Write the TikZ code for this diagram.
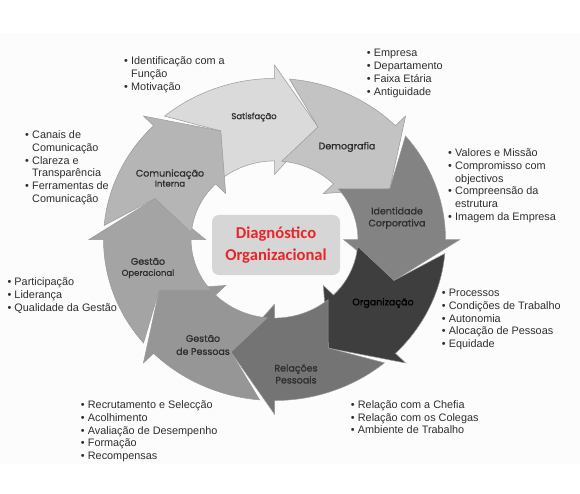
\documentclass[tikz,border=0pt]{standalone}
\usepackage{fontspec}
\setmainfont{Liberation Sans}
\newfontfamily\lblfont[FakeBold=1.2]{Poppins}
\newfontfamily\titlefont{Carlito}
\usetikzlibrary{calc}
\definecolor{cSat}{HTML}{DADADA}
\definecolor{cDem}{HTML}{C3C3C3}
\definecolor{cIde}{HTML}{838383}
\definecolor{cOrg}{HTML}{3E3E3E}
\definecolor{cRel}{HTML}{747474}
\definecolor{cGPe}{HTML}{969696}
\definecolor{cGOp}{HTML}{A4A4A4}
\definecolor{cCom}{HTML}{B5B5B5}
\definecolor{cTitle}{HTML}{E8262A}
\definecolor{cBox}{HTML}{D6D6D6}
\definecolor{cTxt}{HTML}{2E2E2E}
\def\rI{81}
\def\rII{67}
\def\rO{166}
\def\rOO{180}
\def\rM{123.5}
\newcommand\seg[2]{%
  \filldraw[segline, fill=#2]
    (#1+60:\rO) arc[start angle=#1+60, end angle=#1+20, radius=\rO]
    -- (#1+20:\rOO) -- (#1:\rM) -- (#1+20:\rII) -- (#1+20:\rI)
    arc[start angle=#1+20, end angle=#1+60, radius=\rI]
    -- (#1+45:\rM) -- cycle;}
\newcommand\bi{\makebox[7pt][l]{\textbullet}}
\newcommand\ci{\hspace*{7pt}}
\tikzset{
  segline/.style={draw=black!40, line width=0.5pt},
  lbl/.style={font=\lblfont\fontsize{9.5}{12}\selectfont, text=cTxt, align=center, inner sep=0pt},
  lblsm/.style={font=\lblfont\fontsize{8.5}{10}\selectfont, text=cTxt, align=center, inner sep=0pt},
  lst/.style={anchor=north west, inner sep=0pt, align=left, font=\fontsize{10.85}{12.8}\selectfont, text=cTxt},
}
\begin{document}
\begin{tikzpicture}[x=1pt,y=-1pt]
\useasboundingbox (0,0) rectangle (580,494);
\fill[white] (0,0) rectangle (580,494);
\fill[black!1] (0,33) rectangle (580,464);
\begin{scope}[shift={(274.5,239.5)}, x=1.03pt, y=0.97pt]
  \seg{70}{cSat}
  \seg{25}{cDem}
  \seg{-20}{cIde}
  \seg{-65}{cOrg}
  \seg{-110}{cRel}
  \seg{-155}{cGPe}
  \seg{-200}{cGOp}
  \seg{-245}{cCom}
\end{scope}
% segment labels
\node[lblsm] (lsat) at (254,117) {Satisfação};
\node[lbl] (ldem) at (347,147) {Demografia};
\node[lbl] (lide) at (397,218) {Identidade\\Corporativa};
\node[lbl, text=black] (lorg) at (383,303) {Organização};
\node[lbl] (lrel) at (296,374) {Relações\\Pessoais};
\node[lbl, font=\lblfont\fontsize{9.5}{13}\selectfont] (lgpe) at (203,345) {Gestão\\de Pessoas};
\node[lbl, font=\lblfont\fontsize{9.5}{11}\selectfont] (lgop) at (148,268) {Gestão\\{\fontsize{8.5}{11}\selectfont Operacional}};
\node[lbl, font=\lblfont\fontsize{9.5}{10}\selectfont] (lcom) at (170,178) {Comunicação\\{\fontsize{8.5}{10}\selectfont Interna}};
% centre
\node[fill=cBox, rounded corners=7pt, minimum width=128pt, minimum height=60pt, inner sep=0pt,
      align=center, text=cTitle, font=\titlefont\bfseries\fontsize{16.6}{22}\selectfont] (title) at (276,245)
      {Diagnóstico\\Organizacional};
% lists
\node[lst] (tsat) at (124,55.4) {\strut\bi Identificação com a\\\ci Função\\\bi Motivação};
\node[lst] (tdem) at (366.7,47.7) {\strut\bi Empresa\\\bi Departamento\\\bi Faixa Etária\\\bi Antiguidade};
\node[lst] (tide) at (448,147.4) {\strut\bi Valores e Missão\\\bi Compromisso com\\\ci objectivos\\\bi Compreensão da\\\ci estrutura\\\bi Imagem da Empresa};
\node[lst] (torg) at (441.7,287.4) {\strut\bi Processos\\\bi Condições de Trabalho\\\bi Autonomia\\\bi Alocação de Pessoas\\\bi Equidade};
\node[lst] (trel) at (350.7,399.1) {\strut\bi Relação com a Chefia\\\bi Relação com os Colegas\\\bi Ambiente de Trabalho};
\node[lst] (tgpe) at (80.7,399.4) {\strut\bi Recrutamento e Selecção\\\bi Acolhimento\\\bi Avaliação de Desempenho\\\bi Formação\\\bi Recompensas};
\node[lst] (tgop) at (7.3,276.7) {\strut\bi Participação\\\bi Liderança\\\bi Qualidade da Gestão};
\node[lst] (tcom) at (25,129.4) {\strut\bi Canais de\\\ci Comunicação\\\bi Clareza e\\\ci Transparência\\\bi Ferramentas de\\\ci Comunicação};
\end{tikzpicture}
\end{document}
